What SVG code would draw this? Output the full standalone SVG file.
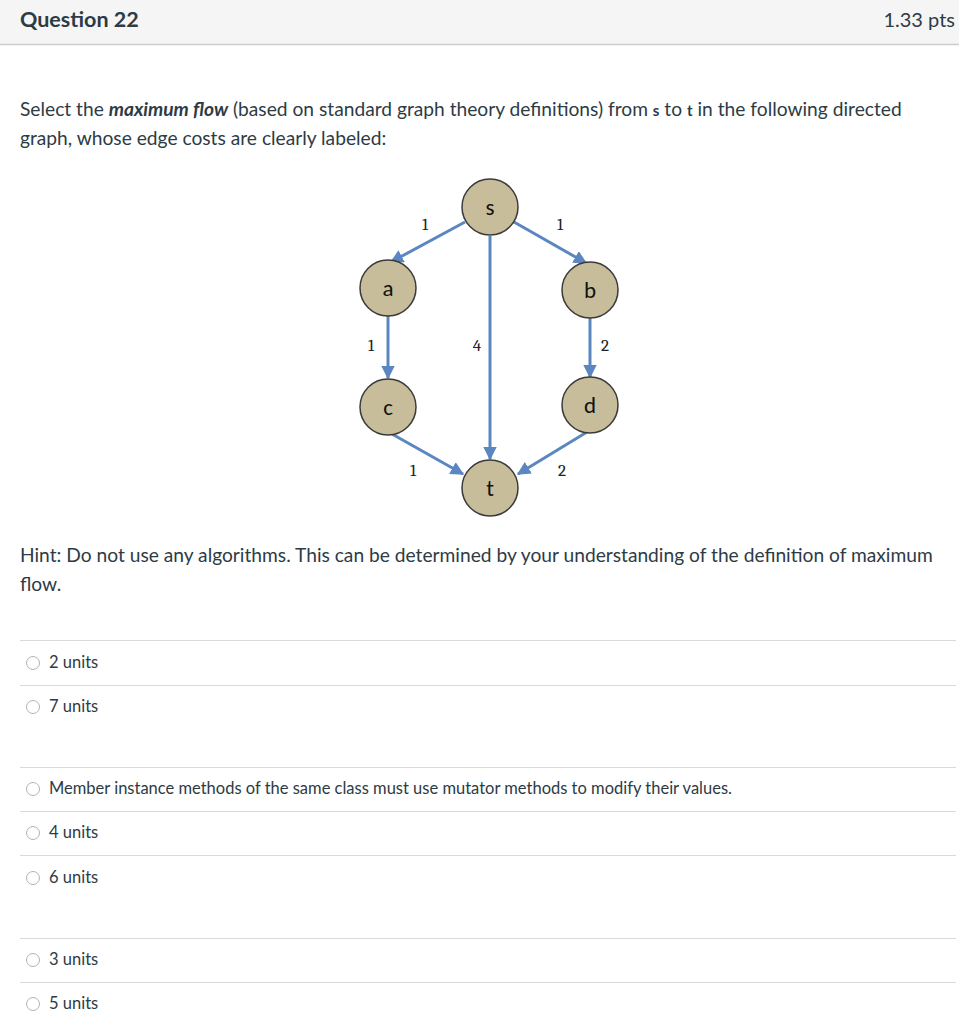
<svg xmlns="http://www.w3.org/2000/svg" width="959" height="1024" viewBox="0 0 959 1024">
<style>
.t{font-family:Lato,"Open Sans",sans-serif;fill:#2d3b45}
.n circle{fill:#c8bd9b;stroke:#3a3a3a;stroke-width:1.5}
.n text{font-family:Calibri,"Open Sans",sans-serif;font-size:23px;text-anchor:middle;fill:#111}
.e{stroke:#5b87c1;stroke-width:3;fill:none;marker-end:url(#ar)}
.l{font-family:Cambria,"Liberation Serif",serif;font-size:17px;fill:#222;text-anchor:middle}
.hr{stroke:#d8dadc;stroke-width:1}
.rb{fill:#fff;stroke:#b0b4b8;stroke-width:1}
.a{font-family:Lato,"Open Sans",sans-serif;font-size:16.5px;fill:#2d3b45}
</style>
<defs><marker id="ar" viewBox="0 0 10 10" refX="9" refY="5" markerWidth="4.5" markerHeight="4.5" orient="auto"><path d="M0,0L10,5L0,10z" fill="#5b87c1"/></marker></defs>
<rect width="959" height="1024" fill="#fff"/>
<rect x="0" y="0" width="959" height="44" fill="#f5f5f5"/>
<line x1="0" y1="44.5" x2="959" y2="44.5" stroke="#c7cdd1" stroke-width="1.5"/>
<text class="t" x="20" y="27" font-size="21.5" font-weight="bold">Question 22</text>
<text class="t" x="955" y="27" font-size="20" text-anchor="end">1.33 pts</text>
<text class="t" x="20" y="116" font-size="19.2">Select the <tspan font-weight="bold" font-style="italic">maximum flow</tspan> (based on standard graph theory definitions) from <tspan font-weight="bold" font-size="15">s</tspan> to <tspan font-weight="bold" font-size="15">t</tspan> in the following directed</text>
<text class="t" x="20" y="145" font-size="19.2">graph, whose edge costs are clearly labeled:</text>
<g id="edges">
<line class="e" x1="465" y1="222" x2="391" y2="262"/>
<line class="e" x1="514" y1="222" x2="586" y2="263"/>
<line class="e" x1="490" y1="236" x2="490" y2="459"/>
<line class="e" x1="388" y1="316" x2="388" y2="378"/>
<line class="e" x1="590" y1="318" x2="590" y2="377"/>
<line class="e" x1="392" y1="434" x2="463" y2="474"/>
<line class="e" x1="587" y1="432" x2="518" y2="474"/>
</g>
<g class="l">
<text class="l" x="425" y="230">1</text>
<text class="l" x="560" y="230">1</text>
<text class="l" x="371" y="351">1</text>
<text class="l" x="477" y="351">4</text>
<text class="l" x="605" y="351">2</text>
<text class="l" x="413" y="476">1</text>
<text class="l" x="562" y="476">2</text>
</g>
<g id="s" class="n"><circle cx="490" cy="207" r="28"/><text x="490" y="215">s</text></g>
<g id="a" class="n"><circle cx="388" cy="288" r="28"/><text x="388" y="296">a</text></g>
<g id="b" class="n"><circle cx="590" cy="290" r="28"/><text x="590" y="298">b</text></g>
<g id="c" class="n"><circle cx="388" cy="407" r="28"/><text x="388" y="415">c</text></g>
<g id="d" class="n"><circle cx="590" cy="405" r="28"/><text x="590" y="413">d</text></g>
<g id="t" class="n"><circle cx="490" cy="488" r="28"/><text x="490" y="496">t</text></g>
<text class="t" x="20" y="562" font-size="19.2">Hint: Do not use any algorithms.  This can be determined by your understanding of the definition of maximum</text>
<text class="t" x="20" y="591" font-size="19.2">flow.</text>
<line class="hr" x1="20" y1="640.5" x2="956" y2="640.5"/>
<circle class="rb" cx="33" cy="663" r="6.5"/><text class="a" x="49" y="668">2 units</text>
<line class="hr" x1="20" y1="685.5" x2="956" y2="685.5"/>
<circle class="rb" cx="33" cy="707" r="6.5"/><text class="a" x="49" y="712">7 units</text>
<line class="hr" x1="20" y1="767.5" x2="956" y2="767.5"/>
<circle class="rb" cx="33" cy="789" r="6.5"/><text class="a" x="49" y="794">Member instance methods of the same class must use mutator methods to modify their values.</text>
<line class="hr" x1="20" y1="811.5" x2="956" y2="811.5"/>
<circle class="rb" cx="33" cy="833" r="6.5"/><text class="a" x="49" y="838">4 units</text>
<line class="hr" x1="20" y1="855.5" x2="956" y2="855.5"/>
<circle class="rb" cx="33" cy="878" r="6.5"/><text class="a" x="49" y="883">6 units</text>
<line class="hr" x1="20" y1="938.5" x2="956" y2="938.5"/>
<circle class="rb" cx="33" cy="960" r="6.5"/><text class="a" x="49" y="965">3 units</text>
<line class="hr" x1="20" y1="982.5" x2="956" y2="982.5"/>
<circle class="rb" cx="33" cy="1004" r="6.5"/><text class="a" x="49" y="1009">5 units</text>
</svg>
